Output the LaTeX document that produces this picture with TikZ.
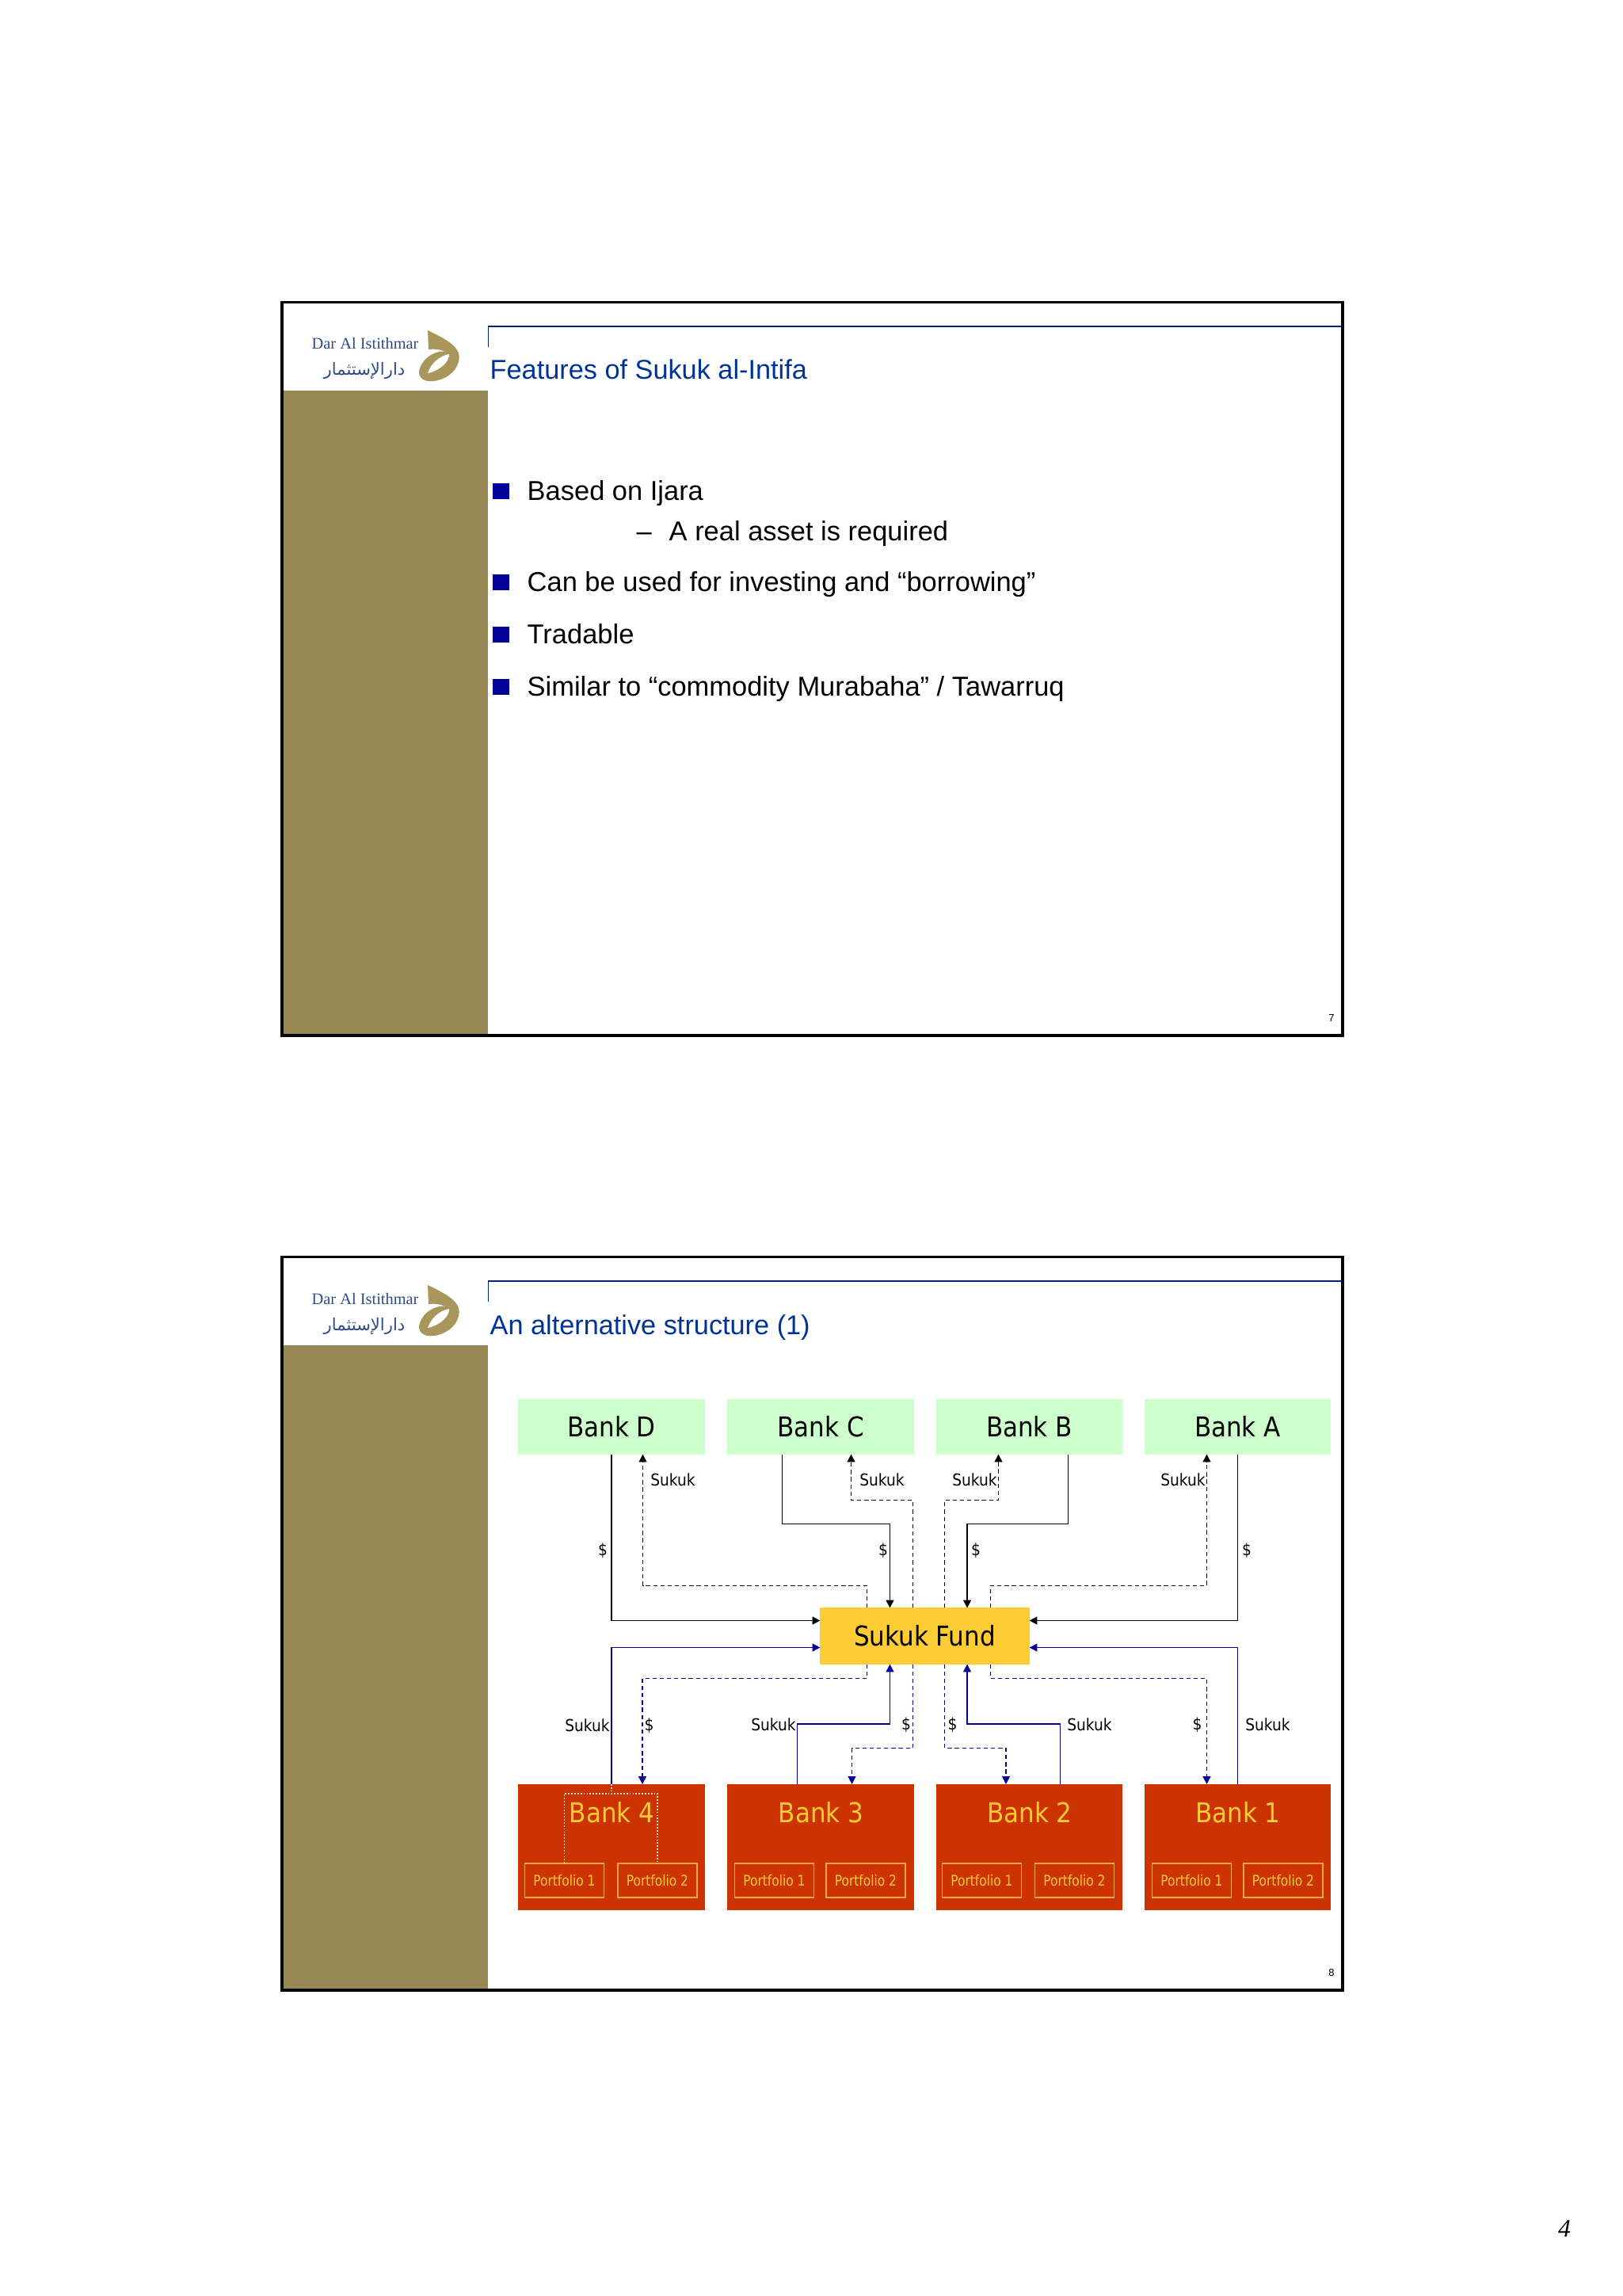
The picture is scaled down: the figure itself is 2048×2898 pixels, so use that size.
\documentclass[tikz,border=0pt]{standalone}
\usepackage{fontspec}
\usepackage{xcolor}
\usepackage{tikz}
\usetikzlibrary{arrows.meta,calc,positioning}
\setmainfont{Liberation Sans}
\newfontfamily\tahomafont{DejaVu Sans Condensed}
\newfontfamily\portfont[FakeStretch=0.92]{DejaVu Sans Condensed}
\newfontfamily\logofont{Liberation Serif}
\newfontfamily\arabicfont[Script=Arabic]{DejaVu Sans}
\TeXXeTstate=1
\definecolor{olive}{RGB}{150,135,85}
\definecolor{gold}{RGB}{168,150,90}
\definecolor{titleblue}{RGB}{0,51,153}
\definecolor{ruleblue}{RGB}{0,30,130}
\definecolor{logoblue}{RGB}{45,75,135}
\definecolor{flowblue}{RGB}{0,0,153}
\definecolor{mint}{RGB}{204,255,204}
\definecolor{amber}{RGB}{255,204,51}
\definecolor{brick}{RGB}{204,51,0}
\definecolor{pframe}{RGB}{255,170,50}
\tikzset{
  greenbank/.style={fill=mint,minimum width=2.35cm,minimum height=.69cm,inner sep=0,outer sep=0,font=\tahomafont\fontsize{9.8}{11}\selectfont},
  redbank/.style={fill=brick,minimum width=2.35cm,minimum height=1.59cm,inner sep=0,outer sep=0},
  fundbox/.style={fill=amber,minimum width=2.64cm,minimum height=.71cm,inner sep=0,outer sep=0,font=\tahomafont\fontsize{9.8}{11}\selectfont},
  banktitle/.style={text=amber,inner sep=0,font=\tahomafont\fontsize{9.8}{11}\selectfont},
  portbox/.style={draw=pframe,line width=.4pt,text=amber,minimum width=1cm,minimum height=.43cm,inner sep=0,outer sep=0,font=\portfont\fontsize{5.3}{7}\selectfont},
  flowlabel/.style={inner sep=0,font=\tahomafont\fontsize{5.9}{7}\selectfont},
  flow/.style={line width=.45pt,-{Triangle[length=2.8pt,width=2.8pt]}},
  flowdash/.style={flow,dash pattern=on 1.5pt off 1.1pt},
  dotline/.style={draw=orange!20!white,line width=.3pt,dash pattern=on .5pt off .6pt},
  slidetitle/.style={anchor=base west,inner sep=0,text=titleblue,font=\fontsize{9.75}{11}\selectfont},
  bodytext/.style={anchor=base west,inner sep=0,font=\fontsize{9.8}{11}\selectfont},
  bulletsq/.style={fill=flowblue,minimum width=.21cm,minimum height=.2cm,inner sep=0,anchor=north west},
  pagenum/.style={inner sep=0,font=\fontsize{3.7}{4}\selectfont},
}
\newcommand{\darlogo}[2]{%
  \begin{scope}[shift={(0,#2)}]
    \node[anchor=base west,inner sep=0,text=logoblue,font=\logofont\fontsize{5.8}{7}\selectfont] (logoen#1) at (393,1646) {Dar Al Istithmar};
    \node[anchor=base,inner sep=0,text=logoblue,font=\arabicfont\fontsize{6}{7}\selectfont] (logoar#1) at (460,1679) {\beginR دارالإستثمار\endR};
    \fill[gold] (540,1622) .. controls (560,1632) and (584,1642) .. (579,1661) .. controls (576,1675) and (562,1684) .. (548,1686) .. controls (534,1688) and (526,1680) .. (530,1670) .. controls (534,1656) and (552,1646) .. (563,1649) .. controls (556,1646) and (548,1645) .. (541,1646) -- cycle;
    \fill[white] (540,1676) .. controls (545,1662) and (556,1654) .. (567,1652) .. controls (568,1662) and (553,1674) .. (540,1676) -- cycle;
  \end{scope}}
\begin{document}
\begin{tikzpicture}[x=.01cm,y=-.01cm]
  \useasboundingbox (0,0) rectangle (2048,2898);
  % upper slide
  \fill[olive] (358,493) rectangle (616,1305);
  \draw[line width=1.1pt] (356,381.5) rectangle (1695,1307);
  \draw[ruleblue,line width=.45pt] (616.5,438) -- (616.5,412) -- (1693,412);
  \darlogo{one}{-1205}
  \node[slidetitle] (titleone) at (618,479) {Features of Sukuk al-Intifa};
  \node[bulletsq] (sqa) at (621,609) {}; \node[bodytext] (lia) at (665,632) {Based on Ijara};
  \node[bodytext] (dash) at (803,683) {--}; \node[bodytext] (lib) at (844,683) {A real asset is required};
  \node[bulletsq] (sqc) at (621,724) {}; \node[bodytext] (lic) at (665,747) {Can be used for investing and “borrowing”};
  \node[bulletsq] (sqd) at (621,790) {}; \node[bodytext] (lid) at (665,813) {Tradable};
  \node[bulletsq] (sqe) at (621,856) {}; \node[bodytext] (lie) at (665,879) {Similar to “commodity Murabaha” / Tawarruq};
  \node[pagenum] (numone) at (1681,1285) {7};
  % lower slide
  \fill[olive] (358,1698) rectangle (616,2510);
  \draw[line width=1.1pt] (356,1586.5) rectangle (1695,2512);
  \draw[ruleblue,line width=.45pt] (616.5,1643) -- (616.5,1617) -- (1693,1617);
  \darlogo{two}{0}
  \node[slidetitle] (titletwo) at (618,1684) {An alternative structure (1)};
  \node[pagenum] (numtwo) at (1681,2490) {8};
  % banks
  \node[greenbank] (bankD) at (772,1801) {Bank D}; \node[greenbank] (bankC) at (1036,1801) {Bank C};
  \node[greenbank] (bankB) at (1299.5,1801) {Bank B}; \node[greenbank] (bankA) at (1562.5,1801) {Bank A};
  \node[fundbox] (fund) at (1167.5,2065) {Sukuk Fund};
  \node[redbank] (bank4) at (772,2331.5) {}; \node[redbank] (bank3) at (1036,2331.5) {};
  \node[redbank] (bank2) at (1299.5,2331.5) {}; \node[redbank] (bank1) at (1562.5,2331.5) {};
  \node[banktitle] (name4) at (772.5,2288) {Bank 4}; \node[banktitle] (name3) at (1036.5,2288) {Bank 3};
  \node[banktitle] (name2) at (1300,2288) {Bank 2}; \node[banktitle] (name1) at (1563,2288) {Bank 1};
  \node[portbox] (p41) at (712.5,2373.5) {Portfolio 1}; \node[portbox] (p42) at (830,2373.5) {Portfolio 2};
  \node[portbox] (p31) at (977.5,2373.5) {Portfolio 1}; \node[portbox] (p32) at (1093,2373.5) {Portfolio 2};
  \node[portbox] (p21) at (1239.5,2373.5) {Portfolio 1}; \node[portbox] (p22) at (1356.5,2373.5) {Portfolio 2};
  \node[portbox] (p11) at (1504.5,2373.5) {Portfolio 1}; \node[portbox] (p12) at (1620,2373.5) {Portfolio 2};
  \draw[dotline] (p41.north) -- ++(0,-88) -| (p42.north); \draw[dotline] (bank4.north) -- ++(0,12);
  % upper flows
  \draw[flow] (bankD.south) |- ([yshift=.195cm]fund.west);
  \draw[flowdash] ([xshift=-.73cm]fund.north) -- ++(0,-28) -| ([xshift=.395cm]bankD.south);
  \draw[flow] ([xshift=-.485cm]bankC.south) -- ++(0,88) -| ([xshift=-.44cm]fund.north);
  \draw[flowdash] ([xshift=-.15cm]fund.north) -- ++(0,-136) -| ([xshift=.385cm]bankC.south);
  \draw[flowdash] ([xshift=.25cm]fund.north) -- ++(0,-136) -| ([xshift=-.39cm]bankB.south);
  \draw[flow] ([xshift=.49cm]bankB.south) -- ++(0,88) -| ([xshift=.535cm]fund.north);
  \draw[flowdash] ([xshift=.83cm]fund.north) -- ++(0,-28) -| ([xshift=-.39cm]bankA.south);
  \draw[flow] (bankA.south) |- ([yshift=.195cm]fund.east);
  % lower flows
  \draw[flow,flowblue] (bank4.north) |- ([yshift=-.145cm]fund.west);
  \draw[flowdash,flowblue] ([xshift=-.73cm]fund.south) -- ++(0,18) -| ([xshift=.39cm]bank4.north);
  \draw[flow,flowblue] ([xshift=-.295cm]bank3.north) -- ++(0,-76) -| ([xshift=-.44cm]fund.south);
  \draw[flowdash,flowblue] ([xshift=-.15cm]fund.south) -- ++(0,106) -| ([xshift=.395cm]bank3.north);
  \draw[flowdash,flowblue] ([xshift=.25cm]fund.south) -- ++(0,106) -| ([xshift=-.295cm]bank2.north);
  \draw[flow,flowblue] ([xshift=.39cm]bank2.north) -- ++(0,-76) -| ([xshift=.535cm]fund.south);
  \draw[flowdash,flowblue] ([xshift=.83cm]fund.south) -- ++(0,18) -| ([xshift=-.39cm]bank1.north);
  \draw[flow,flowblue] (bank1.north) |- ([yshift=-.145cm]fund.east);
  % labels
  \node[flowlabel] (sukD) at (849.5,1868) {Sukuk}; \node[flowlabel] (usdD) at (761,1957) {\$};
  \node[flowlabel] (sukC) at (1113.5,1868) {Sukuk}; \node[flowlabel] (usdC) at (1115,1957) {\$};
  \node[flowlabel] (sukB) at (1230.5,1868) {Sukuk}; \node[flowlabel] (usdB) at (1232,1957) {\$};
  \node[flowlabel] (sukA) at (1493.5,1868) {Sukuk}; \node[flowlabel] (usdA) at (1574,1957) {\$};
  \node[flowlabel] (suk4) at (741.5,2178) {Sukuk}; \node[flowlabel] (usd4) at (819.5,2178) {\$};
  \node[flowlabel] (suk3) at (976.5,2177) {Sukuk}; \node[flowlabel] (usd3) at (1144,2177) {\$};
  \node[flowlabel] (suk2) at (1375.5,2177) {Sukuk}; \node[flowlabel] (usd2) at (1202.5,2177) {\$};
  \node[flowlabel] (suk1) at (1600.5,2177) {Sukuk}; \node[flowlabel] (usd1) at (1511.5,2177) {\$};
  % page number
  \node[inner sep=0,font=\logofont\itshape\fontsize{9}{11}\selectfont] (sheetnum) at (1975,2813) {4};
\end{tikzpicture}
\end{document}
